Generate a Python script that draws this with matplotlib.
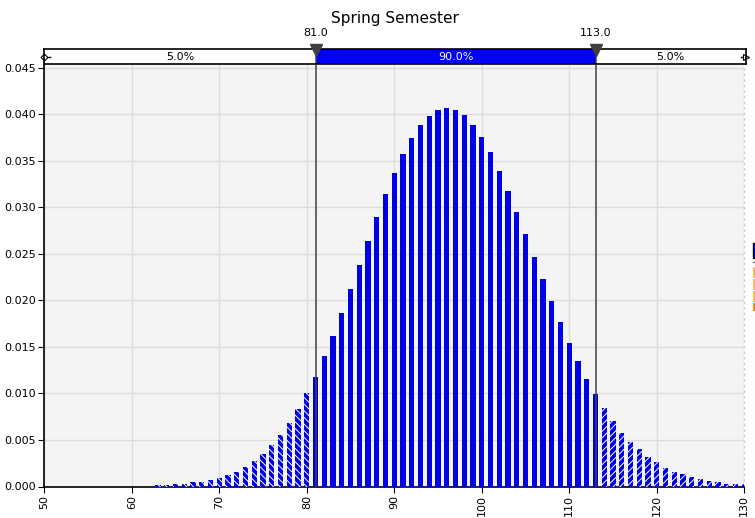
import matplotlib
matplotlib.use("Agg")
from matplotlib import pyplot as plt
from matplotlib.patches import Rectangle
from matplotlib.lines import Line2D
import numpy as np

# values
x_start = 63
probs = [0.0002, 0.0002, 0.00025, 0.00032, 0.00043, 0.00053, 0.00075, 0.00096,
         0.00128, 0.0016, 0.00214, 0.00278, 0.00352, 0.00448, 0.00555, 0.00683,
         0.00833, 0.0100,
         0.0118, 0.0140, 0.0162, 0.0187, 0.0212, 0.0238, 0.0264, 0.0290, 0.0314,
         0.0337, 0.0357, 0.0375, 0.0389, 0.0398, 0.0405, 0.0407, 0.0405, 0.0399,
         0.0389, 0.0376, 0.0359, 0.0339, 0.0318, 0.0295, 0.0271, 0.0247, 0.0223,
         0.0199, 0.0177, 0.0154, 0.0135, 0.0115, 0.0099,
         0.0084, 0.0070, 0.0058, 0.0048, 0.0040, 0.0032, 0.0026, 0.0020, 0.0016,
         0.0013, 0.0010, 0.0008, 0.00054, 0.00043, 0.00032, 0.00022, 0.00022]
lo, hi = 81.0, 113.0
band_labels = ["5.0%", "90.0%", "5.0%"]
title = "Spring Semester"

xs = np.arange(x_start, x_start + len(probs))
probs = np.array(probs)

W, H = 755, 518
fig = plt.figure(figsize=(W / 100, H / 100), dpi=100)
plt.rcParams['hatch.linewidth'] = 0.7

# -------- main axes ----------#
ax = fig.add_axes([44.3 / W, 1 - 486.5 / H, 700 / W, (486.5 - 65) / H])
ax.set_facecolor("#f4f4f4")
bar_col = "#0000e6"

left = xs < lo
right = xs > hi
mid = ~left & ~right
ax.bar(xs[mid], probs[mid], width=0.6, color=bar_col, linewidth=0, zorder=3)
ax.bar(xs[left], probs[left], width=0.6, facecolor=bar_col, edgecolor="white",
       hatch="\\\\\\\\\\", linewidth=0, zorder=3)
ax.bar(xs[right], probs[right], width=0.6, facecolor=bar_col, edgecolor="white",
       hatch="/////", linewidth=0, zorder=3)

ax.axvline(lo, color="#404040", lw=1.1, zorder=4)
ax.axvline(hi, color="#404040", lw=1.1, zorder=4)

ax.set_xlim(50, 130)
ax.set_ylim(0, 0.0453)
ax.set_xticks(np.arange(50, 131, 10))
ax.set_yticks(np.arange(0, 0.0451, 0.005))
ax.yaxis.set_major_formatter(matplotlib.ticker.FormatStrFormatter("%.3f"))
ax.grid(True, color="#dcdcdc", lw=1, zorder=0)
ax.tick_params(axis="x", labelrotation=90, labelsize=8, length=4, pad=2)
ax.tick_params(axis="y", labelsize=8, length=4, pad=2)
for s in ["top", "right"]:
    ax.spines[s].set_visible(False)
ax.axvline(130, color="#d0d0d0", lw=1, ls=(0, (2, 2)), zorder=1, clip_on=False)
for s in ["left", "bottom"]:
    ax.spines[s].set_color("black")
    ax.spines[s].set_linewidth(1.2)

# -------- percent band on top ----------#
bx = fig.add_axes([44.3 / W, 1 - 64.3 / H, 701.7 / W, 15.3 / H])
x_end = 50 + 701.7 / 8.75
bx.set_xlim(50, x_end)
bx.set_ylim(0, 1)
bx.add_patch(Rectangle((50, 0), lo - 50, 1, facecolor="white", edgecolor="none"))
bx.add_patch(Rectangle((lo, 0), hi - lo, 1, facecolor="#0000ff", edgecolor="none"))
bx.add_patch(Rectangle((hi, 0), x_end - hi, 1, facecolor="white", edgecolor="none"))
bx.text((50 + lo) / 2, 0.45, band_labels[0], ha="center", va="center", fontsize=8)
bx.text((lo + hi) / 2, 0.45, band_labels[1], ha="center", va="center", fontsize=8,
        color="white")
bx.text((hi + x_end) / 2, 0.45, band_labels[2], ha="center", va="center", fontsize=8)
bx.set_xticks([])
bx.set_yticks([])
for s in bx.spines.values():
    s.set_color("black")
    s.set_linewidth(1.2)
bx.plot([50, 50.6], [0.5, 0.5], color="black", lw=1, clip_on=False)
bx.plot([50], [0.5], marker="D", ms=3.5, mfc="white", mec="black", mew=0.8,
        clip_on=False)
bx.plot([x_end - 0.6, x_end], [0.5, 0.5], color="black", lw=1, clip_on=False)
bx.plot([x_end], [0.5], marker=">", ms=4, mfc="white", mec="black", mew=0.8,
        clip_on=False)
for v in [lo, hi]:
    bx.plot([v, v], [0, 1], color="#404040", lw=1.1)
    bx.plot([v], [0.95], marker="v", ms=8, color="#404040", clip_on=False, zorder=5)
    bx.text(v, 1.75, "%.1f" % v, ha="center", va="bottom", fontsize=8)

fig.text(395 / W, 1 - 19 / H, title, ha="center", va="center", fontsize=11)

# clipped legend at the right edge
fig.patches.append(Rectangle((753 / W, 1 - 258 / H), 4 / W, 15 / H,
                             facecolor="#0000ff", edgecolor="black", lw=1,
                             transform=fig.transFigure))
fig.lines.append(Line2D([753 / W, 1], [1 - 262 / H] * 2, color="#808080", lw=1,
                        transform=fig.transFigure))
for yy in [268, 280, 292]:
    fig.lines.append(Line2D([754 / W, 754 / W], [1 - yy / H, 1 - (yy + 8) / H],
                            color="#ffb060", lw=2, transform=fig.transFigure))
fig.lines.append(Line2D([754 / W, 754 / W], [1 - 304 / H, 1 - 309 / H],
                        color="#f08000", lw=2, transform=fig.transFigure))

fig.savefig("out.png", dpi=100)
